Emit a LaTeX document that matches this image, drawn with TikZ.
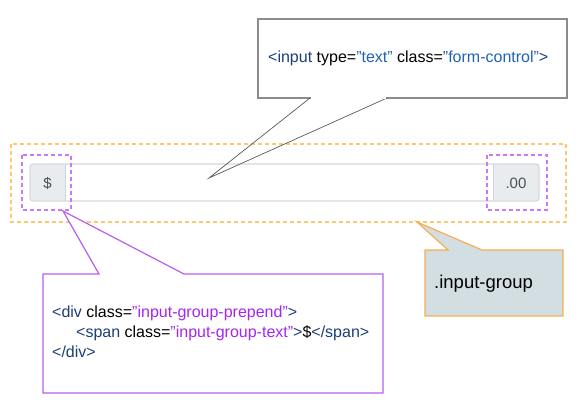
\documentclass[tikz,border=0pt]{standalone}
\usepackage{fontspec}
\setmainfont{Liberation Sans}
\definecolor{tagc}{HTML}{1C3F7A}
\definecolor{strb}{HTML}{1F63B5}
\definecolor{strp}{HTML}{A526F0}
\definecolor{orgdash}{RGB}{255,200,110}
\definecolor{purdash}{RGB}{200,120,255}
\definecolor{purline}{RGB}{185,95,240}
\definecolor{orgline}{RGB}{245,175,80}
\definecolor{calfill}{RGB}{210,222,226}
\definecolor{inborder}{RGB}{206,212,218}
\definecolor{addfill}{RGB}{233,236,239}
\definecolor{addtext}{HTML}{495057}
\newcommand\qq{\char34\relax}
\tikzset{
  codetext/.style={anchor=west, inner sep=0pt, font=\fontsize{16}{20}\selectfont},
  orangedash/.style={draw=orgdash, line width=1.5pt, dash pattern=on 4pt off 3pt},
  purpledash/.style={draw=purdash, line width=1.8pt, dash pattern=on 4pt off 3pt},
}
\begin{document}
\begin{tikzpicture}[x=1pt,y=-1pt]
\useasboundingbox (0,0) rectangle (582,408);
% input group
\draw[inborder, line width=0.8pt, fill=white, rounded corners=3pt] (30,164) rectangle (539,201);
\begin{scope}
\clip[rounded corners=3pt] (30,164) rectangle (539,201);
\fill[addfill] (30,164) rectangle (65,201);
\fill[addfill] (493,164) rectangle (539,201);
\end{scope}
\draw[inborder, line width=0.8pt, rounded corners=3pt] (30,164) rectangle (539,201);
\draw[inborder, line width=0.8pt] (65,164) -- (65,201) (493,164) -- (493,201);
\node[inner sep=0pt, text=addtext, font=\fontsize{15}{18}\selectfont] (dollar) at (47.5,183) {\$};
\node[inner sep=0pt, text=addtext, font=\fontsize{15}{18}\selectfont] (cents) at (516,183) {.00};
% dashed boxes
\draw[orangedash] (11,144) rectangle (566,222);
\draw[purpledash] (22,155) rectangle (71,210);
\draw[purpledash] (487,155) rectangle (547,210);
% top callout
\coordinate (ttip) at (209,178);
\draw[draw=black!45, line width=1.3pt, fill=white] (258,19) -- (567,19) -- (567,98) -- (387,98) -- (310,98) -- (258,98) -- cycle;
\draw[black!65, line width=0.7pt] (387,98) -- (ttip) -- (310,98);
\draw[white, line width=1.4pt] (311,98) -- (386,98);
\node[codetext] (topcode) at (268,58) {\textcolor{tagc}{<input} type=\textcolor{strb}{\qq text\qq} class=\textcolor{strb}{\qq form-control\qq}\textcolor{tagc}{>}};
% bottom callout
\coordinate (btip) at (63,211);
\draw[draw=purline, line width=1.2pt, fill=white, line join=miter] (43,274) -- (99,274) -- (btip) -- (184,274) -- (383,274) -- (383,393) -- (43,393) -- cycle;
\node[codetext] (l1) at (52,313) {\textcolor{tagc}{<div} class=\textcolor{strp}{\qq input-group-prepend\qq}\textcolor{tagc}{>}};
\node[codetext] (l2) at (76,333) {\textcolor{tagc}{<span} class=\textcolor{strp}{\qq input-group-text\qq}\textcolor{tagc}{>}\$\textcolor{tagc}{</span>}};
\node[codetext] (l3) at (52,352) {\textcolor{tagc}{</div>}};
% orange callout
\coordinate (otip) at (417,222);
\draw[draw=orgline, line width=1.2pt, fill=calfill] (425,250) -- (448,250) -- (otip) -- (482,250) -- (563,250) -- (563,316) -- (425,316) -- cycle;
\node[anchor=west, inner sep=0pt, font=\fontsize{18.5}{22}\selectfont] (grp) at (434,284) {.input-group};
\end{tikzpicture}
\end{document}
